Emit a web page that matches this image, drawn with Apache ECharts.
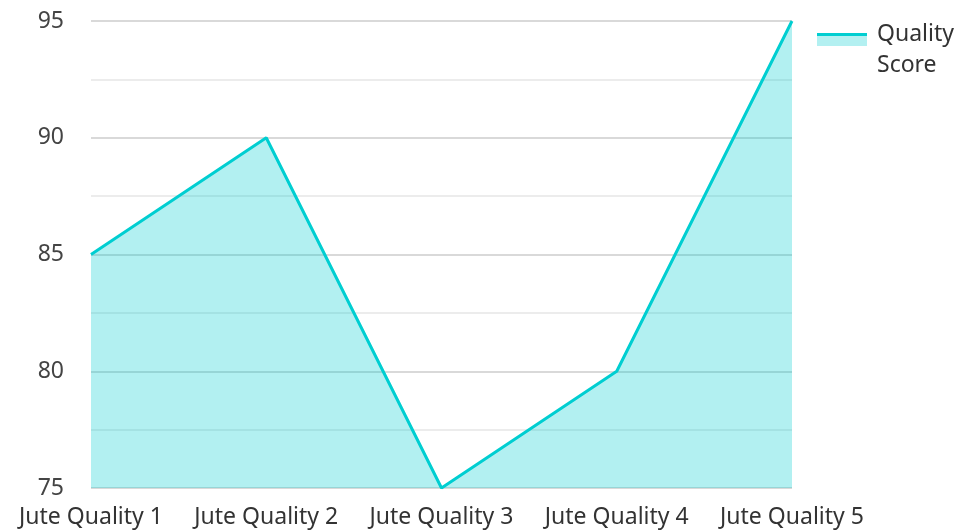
<!DOCTYPE html>
<html><head><meta charset="utf-8">
<script src="https://cdn.jsdelivr.net/npm/echarts@6/dist/echarts.min.js"></script>
<style>html,body{margin:0;padding:0;background:#fff}#c{width:962px;height:531px}</style>
</head><body><div id="c"></div>
<script>
var categories = ['Jute Quality 1','Jute Quality 2','Jute Quality 3','Jute Quality 4','Jute Quality 5'];
var qualityScore = [85, 90, 75, 80, 95];
var seriesName = 'Quality Score';
var chart = echarts.init(document.getElementById('c'));
var iconGrad = new echarts.graphic.LinearGradient(0, 0, 0, 1, [
  {offset: 0, color: '#00CED1'}, {offset: 0.09, color: '#00CED1'},
  {offset: 0.09, color: '#b3f0f1'}, {offset: 0.38, color: '#b3f0f1'},
  {offset: 0.38, color: 'rgba(255,255,255,0)'}, {offset: 1, color: 'rgba(255,255,255,0)'}
]);
chart.setOption({
  animation: false,
  textStyle: {fontFamily: 'Noto Sans'},
  grid: {left: 91, right: 170, top: 21, bottom: 43, containLabel: false},
  legend: {
    left: 817, top: 19, orient: 'vertical', padding: 0,
    icon: 'rect',
    itemWidth: 50, itemHeight: 34, itemGap: 10,
    itemStyle: {color: iconGrad},
    formatter: function(){ return '{a|Quality}\n{a|Score}'; },
    textStyle: {fontSize: 23, color: '#333', lineHeight: 31, fontFamily: 'Noto Sans',
      rich: {a: {fontSize: 23, color: '#333', lineHeight: 31, fontFamily: 'Noto Sans', padding: [0, 0, 0, 5]}}},
    data: [seriesName]
  },
  xAxis: {
    type: 'category', data: categories, boundaryGap: false,
    axisLine: {show: false}, axisTick: {show: false},
    axisLabel: {fontSize: 23, color: '#333', margin: 18, interval: 0}
  },
  yAxis: {
    type: 'value', min: 75, max: 95, interval: 5,
    axisLine: {show: false}, axisTick: {show: false},
    axisLabel: {fontSize: 23, color: '#444', margin: 27},
    splitLine: {lineStyle: {color: '#ccc', width: 1.5}},
    minorTick: {show: false, splitNumber: 2},
    minorSplitLine: {show: true, lineStyle: {color: '#e6e6e6', width: 1.5}}
  },
  series: [{
    name: seriesName, type: 'line', data: qualityScore,
    symbol: 'none',
    lineStyle: {color: '#00CED1', width: 3},
    itemStyle: {color: '#00CED1'},
    areaStyle: {color: '#00CED1', opacity: 0.3}
  }]
});
</script></body></html>
